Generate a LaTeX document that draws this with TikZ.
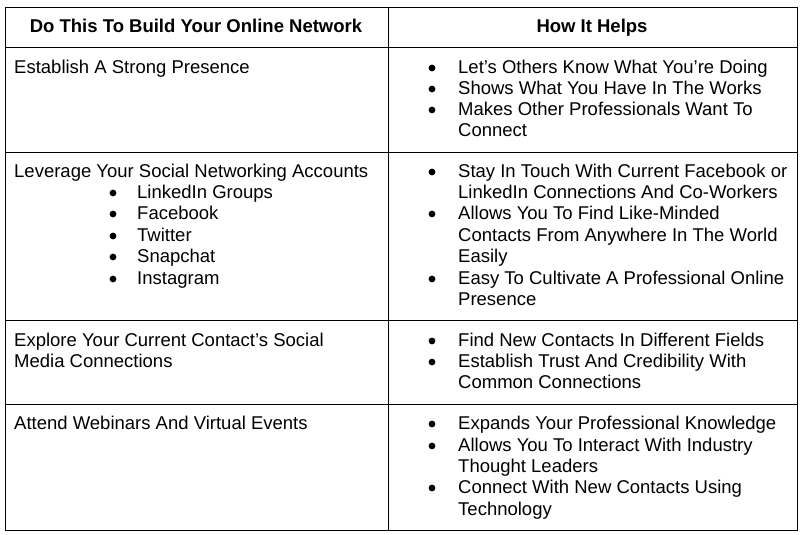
\documentclass[tikz,border=0pt]{standalone}
\usepackage{fontspec}
\setmainfont{Liberation Sans}
\begin{document}
\begin{tikzpicture}[x=1pt,y=-1pt,
  txt/.style={anchor=mid west,inner sep=0pt,yshift=-3pt,font=\fontsize{18.5}{21}\selectfont},
  hdr/.style={anchor=mid,inner sep=0pt,yshift=-3pt,font=\fontsize{18.5}{21}\selectfont\bfseries},
  grid/.style={draw=black,line width=0.9pt},
  dot/.style={fill=black}]
\useasboundingbox (0,0) rectangle (800,535);
\draw[grid] (5,7) rectangle (797,530);
\draw[grid] (388,7) -- (388,530);
\foreach \y in {47,152,320,404} \draw[grid] (5,\y) -- (797,\y);
\node[hdr] (h1) at (196,27) {Do This To Build Your Online Network};
\node[hdr] (h2) at (592,27) {How It Helps};
% left column
\node[txt] (l1) at (14,68) {Establish A Strong Presence};
\node[txt] (l2) at (14,172) {Leverage Your Social Networking Accounts};
\foreach \t/\y in {LinkedIn Groups/193,Facebook/214,Twitter/236,Snapchat/257,Instagram/279}{
  \fill[dot] (113,\y) circle (3.4);
  \node[txt] at (137,\y) {\t};}
\node[txt] (l3a) at (14,341) {Explore Your Current Contact’s Social};
\node[txt] (l3b) at (14,362) {Media Connections};
\node[txt] (l4) at (14,424) {Attend Webinars And Virtual Events};
% right column bullets
\foreach \y in {68,89,110,172,214,279,341,362,424,446,488}
  \fill[dot] (432,\y) circle (3.4);
\foreach \t/\y in {
 Let’s Others Know What You’re Doing/68,
 Shows What You Have In The Works/89,
 Makes Other Professionals Want To/110,
 Connect/131,
 Stay In Touch With Current Facebook or/172,
 LinkedIn Connections And Co-Workers/193,
 Allows You To Find Like-Minded/214,
 Contacts From Anywhere In The World/236,
 Easily/257,
 Easy To Cultivate A Professional Online/279,
 Presence/300,
 Find New Contacts In Different Fields/341,
 Establish Trust And Credibility With/362,
 Common Connections/383,
 Expands Your Professional Knowledge/424,
 Allows You To Interact With Industry/446,
 Thought Leaders/467,
 Connect With New Contacts Using/488,
 Technology/510}
  \node[txt] at (458,\y) {\t};
\end{tikzpicture}
\end{document}
